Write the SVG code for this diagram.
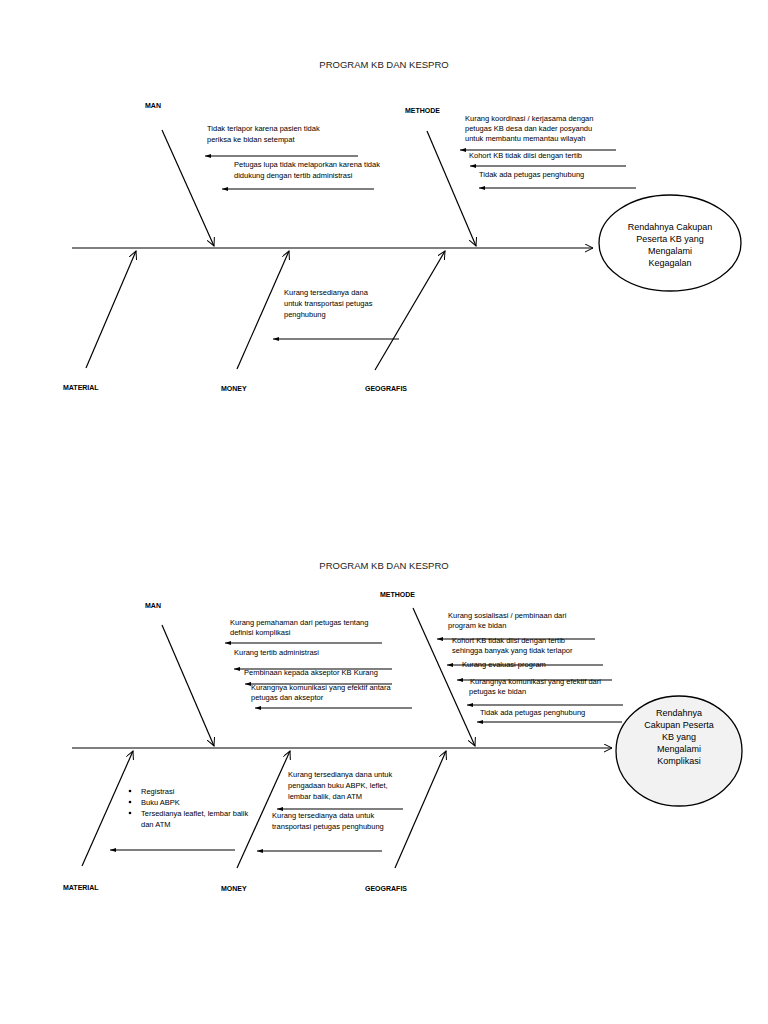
<svg xmlns="http://www.w3.org/2000/svg" width="768" height="1024" viewBox="0 0 768 1024">
<defs>
<marker id="open" markerUnits="userSpaceOnUse" markerWidth="10" markerHeight="10" refX="8" refY="4" orient="auto"><path d="M0,0 L8,4 L0,8" fill="none" stroke="#000" stroke-width="1"/></marker>
<marker id="fill" markerUnits="userSpaceOnUse" markerWidth="8" markerHeight="6" refX="6" refY="2" orient="auto"><path d="M0,0 L6,2 L0,4 z" fill="#000"/></marker>
<style>
.t{font-family:"Liberation Sans",Arial,sans-serif;font-size:7.5px;fill:#000}
.h{font-family:"Liberation Sans",Arial,sans-serif;font-size:9.5px;fill:#222;text-anchor:middle}
.l{font-family:"Liberation Sans",Arial,sans-serif;font-size:7px;font-weight:bold;fill:#000}
.e{font-family:"Liberation Sans",Arial,sans-serif;font-size:9px;fill:#000;text-anchor:middle}
.bone{stroke:#000;stroke-width:1.2;fill:none;marker-end:url(#open)}
.arr{stroke:#000;stroke-width:1.2;fill:none;marker-end:url(#fill)}
</style>
</defs>
<rect width="768" height="1024" fill="#fff"/>

<!-- ===== Diagram 1 ===== -->
<g id="title1"><text class="h" x="384" y="68">PROGRAM KB DAN KESPRO</text></g>
<g id="connectors1">
<line class="bone" x1="72" y1="248" x2="593" y2="248"/>
<line class="bone" x1="162" y1="130" x2="214" y2="246"/>
<line class="bone" x1="427" y1="131" x2="476" y2="246"/>
<line class="bone" x1="86" y1="368" x2="136" y2="251"/>
<line class="bone" x1="237" y1="369" x2="289" y2="251"/>
<line class="bone" x1="375" y1="370" x2="445" y2="251"/>
<line class="arr" x1="358" y1="156" x2="205" y2="156"/>
<line class="arr" x1="374" y1="189" x2="222" y2="189"/>
<line class="arr" x1="616" y1="150" x2="460" y2="150"/>
<line class="arr" x1="626" y1="166" x2="470" y2="166"/>
<line class="arr" x1="636" y1="188" x2="479" y2="188"/>
<line class="arr" x1="399" y1="339" x2="273" y2="339"/>
</g>
<g id="man1"><text class="l" x="145" y="108">MAN</text>
<text class="t" x="207" y="131">Tidak terlapor karena pasien tidak</text>
<text class="t" x="207" y="142">periksa ke bidan setempat</text>
<text class="t" x="234" y="167">Petugas lupa tidak melaporkan karena tidak</text>
<text class="t" x="234" y="178">didukung dengan tertib administrasi</text></g>
<g id="methode1"><text class="l" x="405" y="113">METHODE</text>
<text class="t" x="465" y="121">Kurang koordinasi / kerjasama dengan</text>
<text class="t" x="465" y="131">petugas KB desa dan kader posyandu</text>
<text class="t" x="465" y="141">untuk membantu memantau wilayah</text>
<text class="t" x="469" y="158">Kohort KB tidak diisi dengan tertib</text>
<text class="t" x="479" y="177">Tidak ada petugas penghubung</text></g>
<g id="effect1"><ellipse cx="670" cy="243" rx="71" ry="48" fill="#fff" stroke="#000" stroke-width="1.3"/>
<text class="e" x="670" y="230">Rendahnya Cakupan</text>
<text class="e" x="670" y="242">Peserta KB yang</text>
<text class="e" x="670" y="254">Mengalami</text>
<text class="e" x="670" y="266">Kegagalan</text></g>
<g id="money1"><text class="l" x="221" y="391">MONEY</text>
<text class="t" x="284" y="295">Kurang tersedianya dana</text>
<text class="t" x="284" y="306">untuk transportasi petugas</text>
<text class="t" x="284" y="317">penghubung</text></g>
<g id="material1"><text class="l" x="63" y="390">MATERIAL</text></g>
<g id="geografis1"><text class="l" x="365" y="391">GEOGRAFIS</text></g>

<!-- ===== Diagram 2 ===== -->
<g id="title2"><text class="h" x="384" y="569">PROGRAM KB DAN KESPRO</text></g>
<g id="connectors2">
<line class="bone" x1="72" y1="748" x2="612" y2="748"/>
<line class="bone" x1="162" y1="625" x2="214" y2="746"/>
<line class="bone" x1="413" y1="608" x2="475" y2="746"/>
<line class="bone" x1="82" y1="866" x2="133" y2="751"/>
<line class="bone" x1="237" y1="868" x2="290" y2="751"/>
<line class="bone" x1="395" y1="868" x2="446" y2="751"/>
<line class="arr" x1="382" y1="643" x2="225" y2="643"/>
<line class="arr" x1="392" y1="669" x2="234" y2="669"/>
<line class="arr" x1="392" y1="684" x2="245" y2="684"/>
<line class="arr" x1="412" y1="708" x2="255" y2="708"/>
<line class="arr" x1="595" y1="639" x2="437" y2="639"/>
<line class="arr" x1="603" y1="665" x2="447" y2="665"/>
<line class="arr" x1="612" y1="680" x2="457" y2="680"/>
<line class="arr" x1="623" y1="705" x2="467" y2="705"/>
<line class="arr" x1="622" y1="722" x2="477" y2="722"/>
<line class="arr" x1="235" y1="850" x2="110" y2="850"/>
<line class="arr" x1="403" y1="809" x2="277" y2="809"/>
<line class="arr" x1="382" y1="851" x2="257" y2="851"/>
</g>
<g id="man2"><text class="l" x="145" y="608">MAN</text>
<text class="t" x="230" y="625">Kurang pemahaman dari petugas tentang</text>
<text class="t" x="230" y="635">definisi komplikasi</text>
<text class="t" x="234" y="655">Kurang tertib administrasi</text>
<text class="t" x="244" y="675">Pembinaan kepada akseptor KB Kurang</text>
<text class="t" x="251" y="690">Kurangnya komunikasi yang efektif antara</text>
<text class="t" x="251" y="700">petugas dan akseptor</text></g>
<g id="methode2"><text class="l" x="380" y="597">METHODE</text>
<text class="t" x="448" y="618">Kurang sosialisasi / pembinaan dari</text>
<text class="t" x="448" y="628">program ke bidan</text>
<text class="t" x="452" y="643">Kohort KB tidak diisi dengan tertib</text>
<text class="t" x="452" y="653">sehingga banyak yang tidak terlapor</text>
<text class="t" x="462" y="667">Kurang evaluasi program</text>
<text class="t" x="470" y="684">Kurangnya komunikasi yang efektif dari</text>
<text class="t" x="469" y="694">petugas ke bidan</text>
<text class="t" x="480" y="715">Tidak ada petugas penghubung</text></g>
<g id="effect2"><ellipse cx="679" cy="751" rx="63" ry="55" fill="#f2f2f2" stroke="#000" stroke-width="1.3"/>
<text class="e" x="679" y="716">Rendahnya</text>
<text class="e" x="679" y="728">Cakupan Peserta</text>
<text class="e" x="679" y="740">KB yang</text>
<text class="e" x="679" y="752">Mengalami</text>
<text class="e" x="679" y="764">Komplikasi</text></g>
<g id="material2"><text class="l" x="63" y="890">MATERIAL</text>
<circle cx="130" cy="791" r="1.3" fill="#000"/>
<circle cx="130" cy="802" r="1.3" fill="#000"/>
<circle cx="130" cy="813" r="1.3" fill="#000"/>
<text class="t" x="141" y="794">Registrasi</text>
<text class="t" x="141" y="805">Buku ABPK</text>
<text class="t" x="141" y="816">Tersedianya leaflet, lembar balik</text>
<text class="t" x="141" y="827">dan ATM</text></g>
<g id="money2"><text class="l" x="221" y="891">MONEY</text>
<text class="t" x="288" y="777">Kurang tersedianya dana untuk</text>
<text class="t" x="288" y="788">pengadaan buku ABPK, leflet,</text>
<text class="t" x="288" y="799">lembar balik, dan ATM</text>
<text class="t" x="272" y="818">Kurang tersedianya data untuk</text>
<text class="t" x="272" y="829">transportasi petugas penghubung</text></g>
<g id="geografis2"><text class="l" x="365" y="891">GEOGRAFIS</text></g>
</svg>
